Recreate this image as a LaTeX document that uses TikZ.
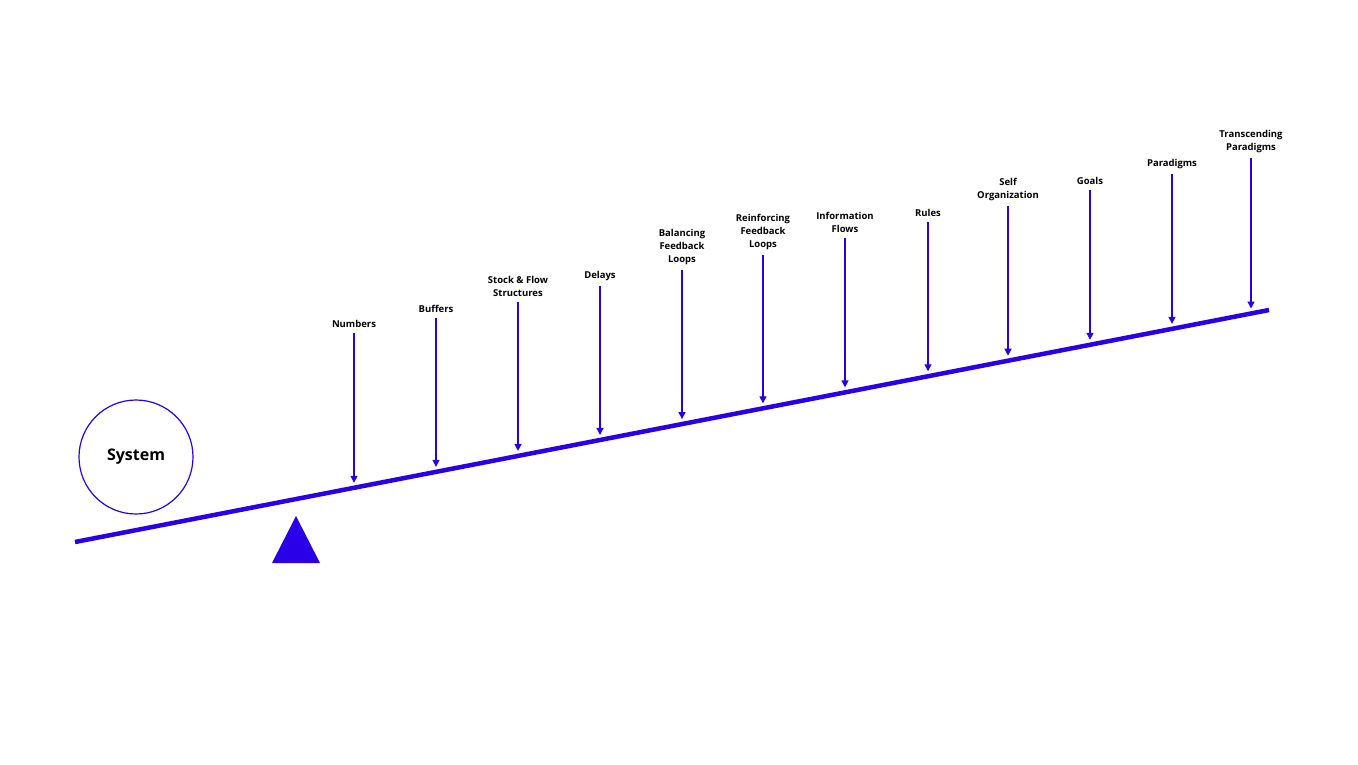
\documentclass[tikz,border=0pt]{standalone}
\usepackage{fontspec}
\setmainfont{Open Sans}
\usetikzlibrary{arrows.meta}
\definecolor{lev}{HTML}{2A00E8}
\begin{document}
\begin{tikzpicture}[x=1pt,y=-1pt,
  lbl/.style={font=\bfseries\fontsize{9.5}{13}\selectfont,align=center,anchor=south,inner sep=1pt},
  pt/.style={draw=lev,line width=1.3pt,-{Triangle[length=7pt,width=7pt]}}]
\useasboundingbox (0,0) rectangle (1358,764);
\coordinate (L) at (75,542);
\coordinate (R) at (1269,310);
\draw[lev,line width=4.5pt] (L) -- (R);
\node[draw=lev,line width=1.2pt,circle,minimum size=114pt,font=\bfseries\fontsize{16}{18}\selectfont] (sys) at (136,457) {System};
\fill[lev] (296,516) -- (320,563) -- (272,563) -- cycle;
\foreach \i/\x/\t/\txt in {
 a/354/333/Numbers,
 b/436/318/Buffers,
 c/518/302/{Stock \& Flow\\Structures},
 d/600/286/Delays,
 e/682/270/{Balancing\\Feedback\\Loops},
 f/763/255/{Reinforcing\\Feedback\\Loops},
 g/845/238/{Information\\Flows},
 h/928/222/Rules,
 k/1008/206/{Self\\Organization},
 m/1090/190/Goals,
 n/1172/174/Paradigms,
 o/1251/158/{Transcending\\Paradigms}}{
 \pgfmathsetmacro{\yb}{542-0.1943*(\x-75)-5}
 \coordinate (s\i) at (\x,\t);
 \coordinate (e\i) at (\x,\yb);
 \node[lbl] (l\i) at (\x,\t-4) {\txt};
 \draw[pt] (s\i) -- (e\i);
}
\end{tikzpicture}
\end{document}
